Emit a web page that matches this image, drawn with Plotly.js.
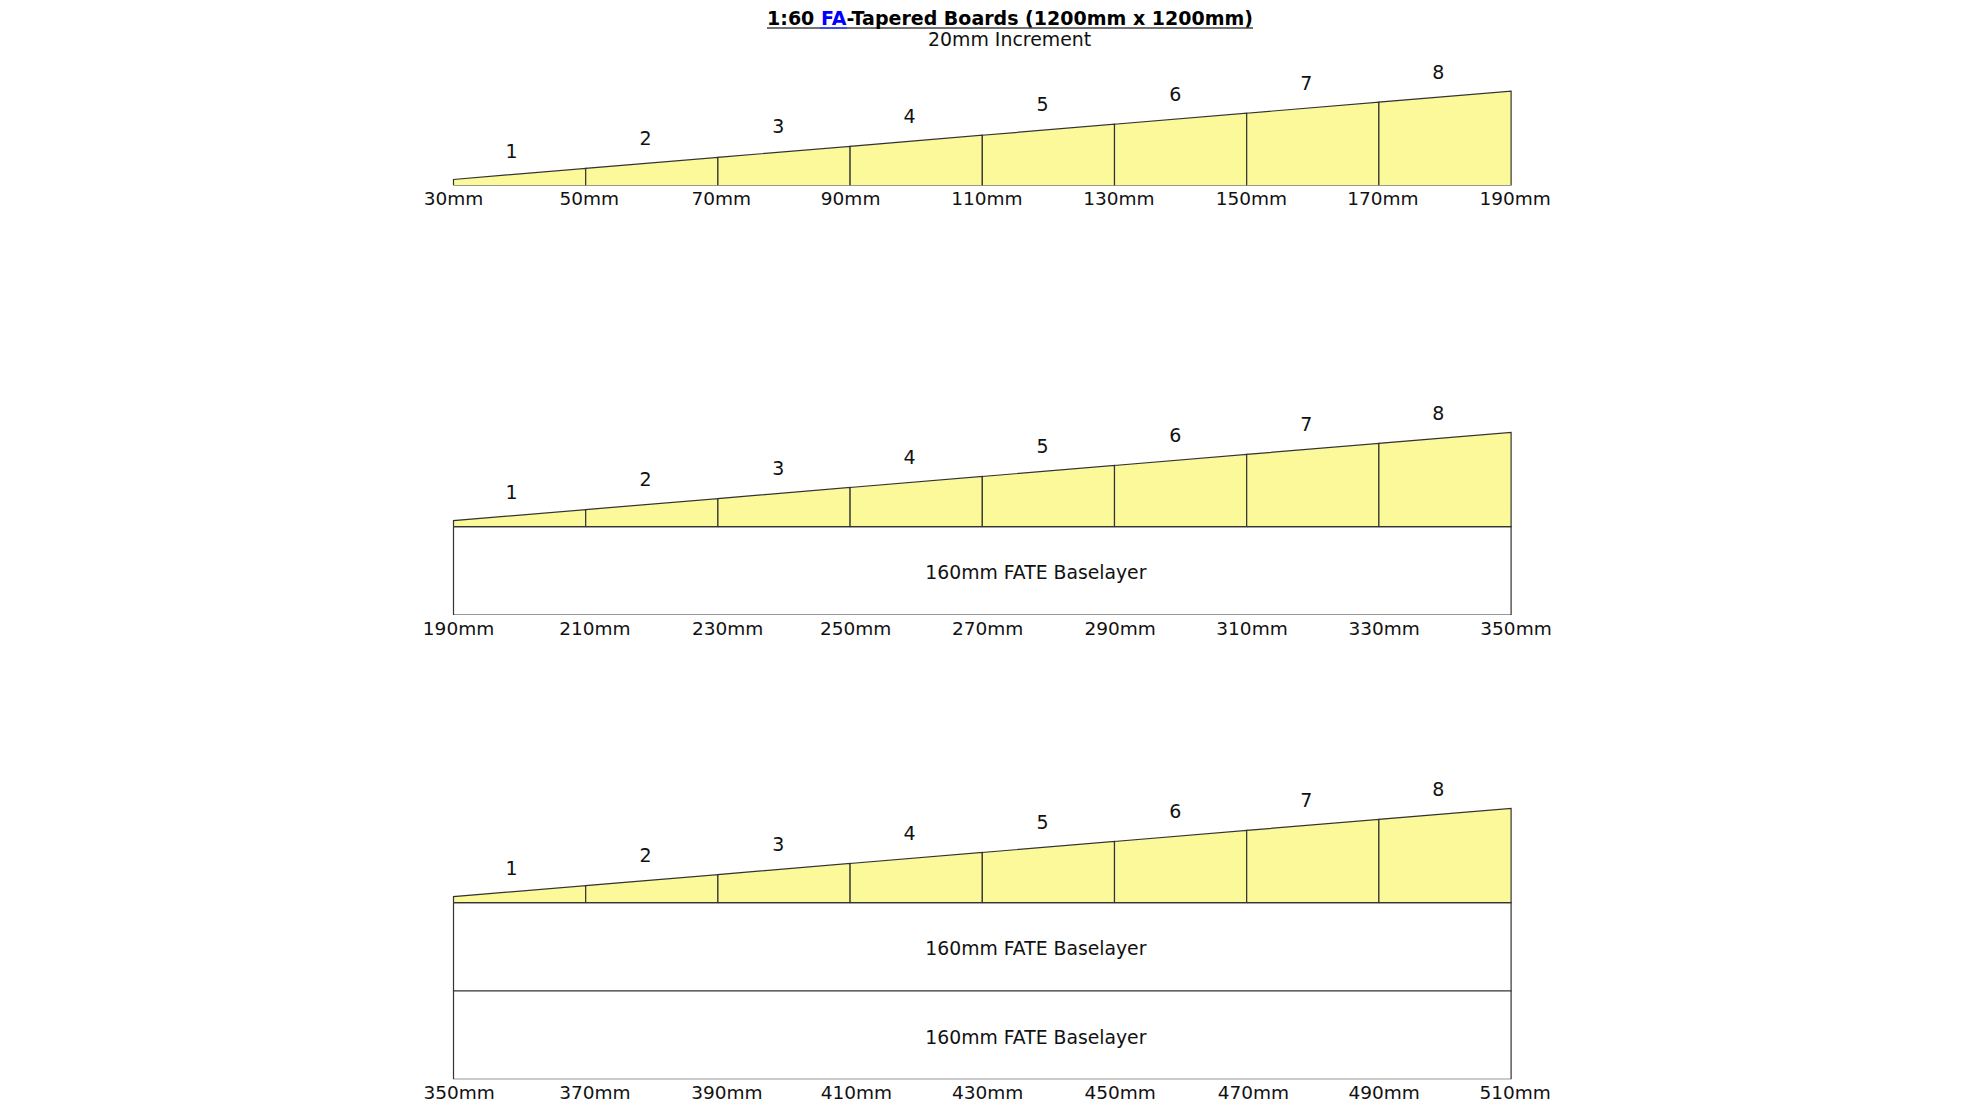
<!DOCTYPE html>
<html>
<head>
<meta charset="utf-8">
<script src="https://cdn.plot.ly/plotly-3.0.1.min.js"></script>
<style>html,body{margin:0;padding:0;background:#fff}#c{width:1980px;height:1112px}</style>
</head>
<body>
<div id="c"></div>
<script>
// Board edges, in board widths along the run
const boardEdges = [0,1,2,3,4,5,6,7,8];
// Drawn taper height at every board edge (mm as drawn)
const taperTops = [11,31,51,71,91,111,131,151,171];
const boardNumbers = ['1','2','3','4','5','6','7','8'];
const numberX = [0.44,1.453,2.457,3.45,4.455,5.46,6.45,7.45];
const numberY = [59,82,103,122,143,162,182,202];

const ticks1 = ['30mm','50mm','70mm','90mm','110mm','130mm','150mm','170mm','190mm'];
const ticks2 = ['190mm','210mm','230mm','250mm','270mm','290mm','310mm','330mm','350mm'];
const ticks3 = ['350mm','370mm','390mm','410mm','430mm','450mm','470mm','490mm','510mm'];
const tickPos1 = [0,1.027,2.025,3.004,4.035,5.033,6.036,7.03,8.03];
const tickPos2 = [0.038,1.07,2.073,3.042,4.04,5.043,6.04,7.04,8.037];
const tickPos3 = [0.043,1.07,2.068,3.047,4.04,5.043,6.05,7.04,8.03];

const baseThickness = 160;
const baseLabel = '160mm FATE Baselayer';
const baseLabelX = 4.405;
const baseLabelDrop = 7;
const layerCounts = [0,1,2];
const titleText = '<b>1:60 <span style="color:#0000ff">FA</span>-Tapered Boards (1200mm x 1200mm)</b>';
const subtitleText = '20mm Increment';

const FONT = 'DejaVu Sans, Verdana, sans-serif';
const W = 1980, H = 1112;
const lineCol = '#333333', fillCol = '#fcf99b', textCol = '#111111';
const pxPerMm = 0.552;
const panelBase = [185.5, 526.7, 902.7];
const yTop = 230;
const plotLeft = 453.5, pxPerBoard = 132.2;
const xRange = [-plotLeft/pxPerBoard, (W-plotLeft)/pxPerBoard];

const traces = [];
const layout = {
  width:W, height:H, showlegend:false,
  paper_bgcolor:'#fff', plot_bgcolor:'rgba(0,0,0,0)',
  margin:{l:0,r:0,t:0,b:0,pad:0},
  font:{family:FONT,size:18.5,color:textCol},
  title:{text:titleText,font:{family:FONT,size:19,color:'#000'},x:1010/W,xref:'paper',xanchor:'center',y:1-18/H,yref:'paper',yanchor:'middle',automargin:false},
  annotations:[{xref:'paper',yref:'paper',x:1009.5/W,y:1-39.5/H,text:subtitleText,showarrow:false,xanchor:'center',yanchor:'middle',font:{family:FONT,size:18.9,color:textCol}}],
  // title underline
  shapes:[
    {type:'line',xref:'paper',yref:'paper',x0:767/W,x1:1253/W,y0:1-28/H,y1:1-28/H,line:{color:'#444444',width:1.6},layer:'above'},
    {type:'line',xref:'paper',yref:'paper',x0:820/W,x1:847/W,y0:1-28/H,y1:1-28/H,line:{color:'#3344ff',width:1.6},layer:'above'}
  ]
};

[ticks1,ticks2,ticks3].forEach((labels,p)=>{
  const sfx = p===0 ? '' : String(p+1);
  const xa = 'x'+sfx, ya = 'y'+sfx;
  const n = layerCounts[p];
  const yMin = -n*baseThickness;
  const topPx = panelBase[p]-yTop*pxPerMm;
  const botPx = panelBase[p]-yMin*pxPerMm;
  layout['xaxis'+sfx] = {
    domain:[0,1],range:xRange,anchor:ya,showgrid:false,zeroline:false,showline:false,
    tickmode:'array',tickvals:[tickPos1,tickPos2,tickPos3][p],ticktext:labels,
    ticks:'',ticklabelstandoff:0.5,tickangle:0,
    tickfont:{family:FONT,size:18.5,color:textCol},fixedrange:true
  };
  layout['yaxis'+sfx] = {
    domain:[1-botPx/H,1-topPx/H],range:[yMin,yTop],anchor:xa,visible:false,fixedrange:true
  };
  for(let k=0;k<n;k++){
    traces.push({type:'scatter',mode:'lines',xaxis:xa,yaxis:ya,cliponaxis:false,hoverinfo:'skip',
      x:[0,0,8,8,0],y:[-k*baseThickness,-(k+1)*baseThickness,-(k+1)*baseThickness,-k*baseThickness,-k*baseThickness],
      fill:'toself',fillcolor:'#ffffff',line:{color:lineCol,width:1.2}});
    traces.push({type:'scatter',mode:'text',xaxis:xa,yaxis:ya,cliponaxis:false,hoverinfo:'skip',
      x:[baseLabelX],y:[-(k+0.5)*baseThickness-baseLabelDrop],text:[baseLabel],textposition:'middle center',
      textfont:{family:FONT,size:18.8,color:textCol}});
  }
  boardNumbers.forEach((b,i)=>{
    traces.push({type:'scatter',mode:'lines',xaxis:xa,yaxis:ya,cliponaxis:false,hoverinfo:'skip',
      x:[boardEdges[i],boardEdges[i],boardEdges[i+1],boardEdges[i+1],boardEdges[i]],
      y:[0,taperTops[i],taperTops[i+1],0,0],
      fill:'toself',fillcolor:fillCol,line:{color:lineCol,width:1.2}});
  });
  traces.push({type:'scatter',mode:'text',xaxis:xa,yaxis:ya,cliponaxis:false,hoverinfo:'skip',
    x:numberX,y:numberY,text:boardNumbers,textposition:'middle center',
    textfont:{family:FONT,size:19,color:textCol}});
});

Plotly.newPlot('c',traces,layout,{displayModeBar:false,staticPlot:true});
</script>
</body>
</html>
